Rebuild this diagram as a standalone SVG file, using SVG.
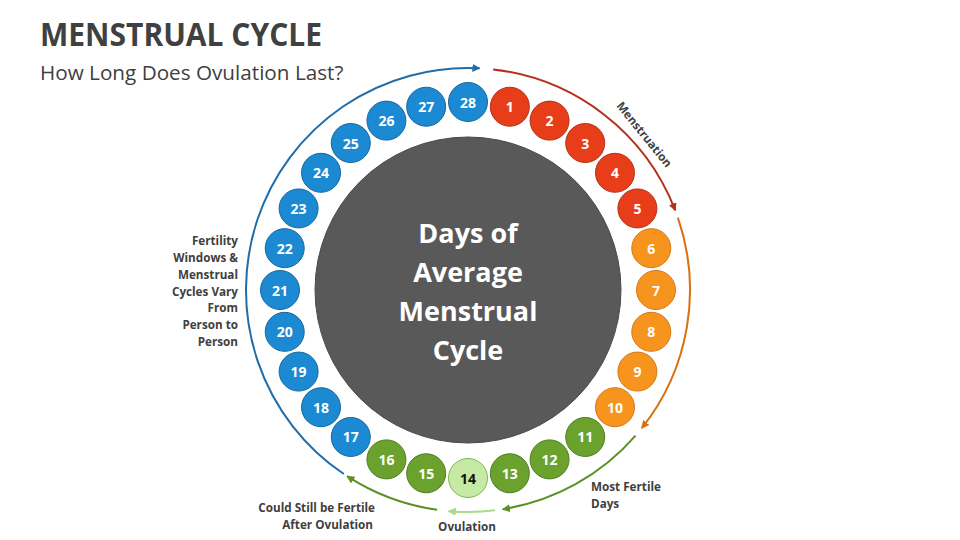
<svg xmlns="http://www.w3.org/2000/svg" width="960" height="540" viewBox="0 0 960 540">
<style>
.title{font-family:"Open Sans","Liberation Sans",sans-serif;font-weight:bold;fill:#404040}
.sub{font-family:"Open Sans","Liberation Sans",sans-serif;fill:#404040}
.lbl{font-family:"Open Sans","Liberation Sans",sans-serif;font-weight:bold;font-size:11.7px;fill:#404040}
.num{font-family:"Open Sans","Liberation Sans",sans-serif;font-weight:bold;font-size:14px;fill:#fff;text-anchor:middle;dominant-baseline:central}
.ctr{font-family:"Open Sans","Liberation Sans",sans-serif;font-weight:bold;font-size:27px;fill:#fff;text-anchor:middle}
.red{fill:#E83D19;stroke:#B3311A;stroke-width:1}
.org{fill:#F7941E;stroke:#D7771A;stroke-width:1}
.grn{fill:#6AA22D;stroke:#4E7E1F;stroke-width:1}
.lgr{fill:#C7E9A6;stroke:#7DB84A;stroke-width:1}
.blu{fill:#1C8AD3;stroke:#17679E;stroke-width:1}
.arc{fill:none;stroke-width:2}
</style>
<defs>
<marker id="mB" viewBox="0 0 10 10" refX="9" refY="5" markerWidth="4" markerHeight="4" orient="auto"><path d="M0,0 L10,5 L0,10 z" fill="#1F6CA8"/></marker>
<marker id="mR" viewBox="0 0 10 10" refX="9" refY="5" markerWidth="4" markerHeight="4" orient="auto"><path d="M0,0 L10,5 L0,10 z" fill="#B5301A"/></marker>
<marker id="mO" viewBox="0 0 10 10" refX="9" refY="5" markerWidth="4" markerHeight="4" orient="auto"><path d="M0,0 L10,5 L0,10 z" fill="#D9700F"/></marker>
<marker id="mG" viewBox="0 0 10 10" refX="9" refY="5" markerWidth="4" markerHeight="4" orient="auto"><path d="M0,0 L10,5 L0,10 z" fill="#5B9025"/></marker>
<marker id="mL" viewBox="0 0 10 10" refX="9" refY="5" markerWidth="4" markerHeight="4" orient="auto"><path d="M0,0 L10,5 L0,10 z" fill="#A9D98A"/></marker>
</defs>
<rect width="960" height="540" fill="#fff"/>
<text class="title" x="40" y="46" font-size="32" textLength="282" lengthAdjust="spacingAndGlyphs">MENSTRUAL CYCLE</text>
<text class="sub" x="40" y="80" font-size="20.7">How Long Does Ovulation Last?</text>

<g id="connectors">
<path class="arc" stroke="#1F6CA8" marker-end="url(#mB)" d="M343.86,474.04 A222,222 0 0 1 479.62,68.3"/>
<path class="arc" stroke="#B5301A" marker-end="url(#mR)" d="M493.13,69.42 A222,222 0 0 1 675.26,210.44"/>
<path class="arc" stroke="#D9700F" marker-end="url(#mO)" d="M677.9,217.7 A222,222 0 0 1 641.74,428.2"/>
<path class="arc" stroke="#5B9025" marker-end="url(#mG)" d="M635.54,435.65 A222,222 0 0 1 502.73,509.27"/>
<path class="arc" stroke="#A9D98A" marker-end="url(#mL)" d="M495.05,510.34 A222,222 0 0 1 448.65,511.15"/>
<path class="arc" stroke="#5B9025" marker-end="url(#mG)" d="M437.1,509.84 A222,222 0 0 1 347.09,476.19"/>
</g>

<g id="center">
<circle cx="468" cy="290" r="153" fill="#595959" stroke="#4a4a4a" stroke-width="1"/>
<text class="ctr" x="468" y="243">Days of</text>
<text class="ctr" x="468" y="282">Average</text>
<text class="ctr" x="468" y="321">Menstrual</text>
<text class="ctr" x="468" y="360">Cycle</text>
</g>

<g id="day1"><circle class="red" cx="509.83" cy="106.72" r="19.5"/><text class="num" x="509.83" y="106.72">1</text></g>
<g id="day2"><circle class="red" cx="549.57" cy="120.61" r="19.5"/><text class="num" x="549.57" y="120.61">2</text></g>
<g id="day3"><circle class="red" cx="585.22" cy="143.02" r="19.5"/><text class="num" x="585.22" y="143.02">3</text></g>
<g id="day4"><circle class="red" cx="614.98" cy="172.78" r="19.5"/><text class="num" x="614.98" y="172.78">4</text></g>
<g id="day5"><circle class="red" cx="637.39" cy="208.43" r="19.5"/><text class="num" x="637.39" y="208.43">5</text></g>
<g id="day6"><circle class="org" cx="651.28" cy="248.17" r="19.5"/><text class="num" x="651.28" y="248.17">6</text></g>
<g id="day7"><circle class="org" cx="656" cy="290" r="19.5"/><text class="num" x="656" y="290">7</text></g>
<g id="day8"><circle class="org" cx="651.28" cy="331.83" r="19.5"/><text class="num" x="651.28" y="331.83">8</text></g>
<g id="day9"><circle class="org" cx="637.39" cy="371.57" r="19.5"/><text class="num" x="637.39" y="371.57">9</text></g>
<g id="day10"><circle class="org" cx="614.98" cy="407.22" r="19.5"/><text class="num" x="614.98" y="407.22">10</text></g>
<g id="day11"><circle class="grn" cx="585.22" cy="436.98" r="19.5"/><text class="num" x="585.22" y="436.98">11</text></g>
<g id="day12"><circle class="grn" cx="549.57" cy="459.39" r="19.5"/><text class="num" x="549.57" y="459.39">12</text></g>
<g id="day13"><circle class="grn" cx="509.83" cy="473.28" r="19.5"/><text class="num" x="509.83" y="473.28">13</text></g>
<g id="day14"><circle class="lgr" cx="468" cy="478" r="19.5"/><text class="num" x="468" y="478" style="fill:#111">14</text></g>
<g id="day15"><circle class="grn" cx="426.17" cy="473.28" r="19.5"/><text class="num" x="426.17" y="473.28">15</text></g>
<g id="day16"><circle class="grn" cx="386.43" cy="459.39" r="19.5"/><text class="num" x="386.43" y="459.39">16</text></g>
<g id="day17"><circle class="blu" cx="350.78" cy="436.98" r="19.5"/><text class="num" x="350.78" y="436.98">17</text></g>
<g id="day18"><circle class="blu" cx="321.02" cy="407.22" r="19.5"/><text class="num" x="321.02" y="407.22">18</text></g>
<g id="day19"><circle class="blu" cx="298.61" cy="371.57" r="19.5"/><text class="num" x="298.61" y="371.57">19</text></g>
<g id="day20"><circle class="blu" cx="284.72" cy="331.83" r="19.5"/><text class="num" x="284.72" y="331.83">20</text></g>
<g id="day21"><circle class="blu" cx="280" cy="290" r="19.5"/><text class="num" x="280" y="290">21</text></g>
<g id="day22"><circle class="blu" cx="284.72" cy="248.17" r="19.5"/><text class="num" x="284.72" y="248.17">22</text></g>
<g id="day23"><circle class="blu" cx="298.61" cy="208.43" r="19.5"/><text class="num" x="298.61" y="208.43">23</text></g>
<g id="day24"><circle class="blu" cx="321.02" cy="172.78" r="19.5"/><text class="num" x="321.02" y="172.78">24</text></g>
<g id="day25"><circle class="blu" cx="350.78" cy="143.02" r="19.5"/><text class="num" x="350.78" y="143.02">25</text></g>
<g id="day26"><circle class="blu" cx="386.43" cy="120.61" r="19.5"/><text class="num" x="386.43" y="120.61">26</text></g>
<g id="day27"><circle class="blu" cx="426.17" cy="106.72" r="19.5"/><text class="num" x="426.17" y="106.72">27</text></g>
<g id="day28"><circle class="blu" cx="468" cy="102" r="19.5"/><text class="num" x="468" y="102">28</text></g>

<g id="label-menstruation"><text class="lbl" text-anchor="middle" dominant-baseline="central" transform="translate(645,134) rotate(51)">Menstruation</text></g>
<g id="label-fertile"><text class="lbl" x="591" y="491">Most Fertile</text><text class="lbl" x="591" y="508">Days</text></g>
<g id="label-ovulation"><text class="lbl" x="467" y="531" text-anchor="middle">Ovulation</text></g>
<g id="label-after"><text class="lbl" x="375" y="512" text-anchor="end">Could Still be Fertile</text><text class="lbl" x="373" y="529" text-anchor="end">After Ovulation</text></g>
<g id="label-vary" text-anchor="end">
<text class="lbl" x="238" y="245">Fertility</text>
<text class="lbl" x="238" y="262">Windows &amp;</text>
<text class="lbl" x="238" y="279">Menstrual</text>
<text class="lbl" x="238" y="296">Cycles Vary</text>
<text class="lbl" x="238" y="312">From</text>
<text class="lbl" x="238" y="329">Person to</text>
<text class="lbl" x="238" y="346">Person</text>
</g>
</svg>
